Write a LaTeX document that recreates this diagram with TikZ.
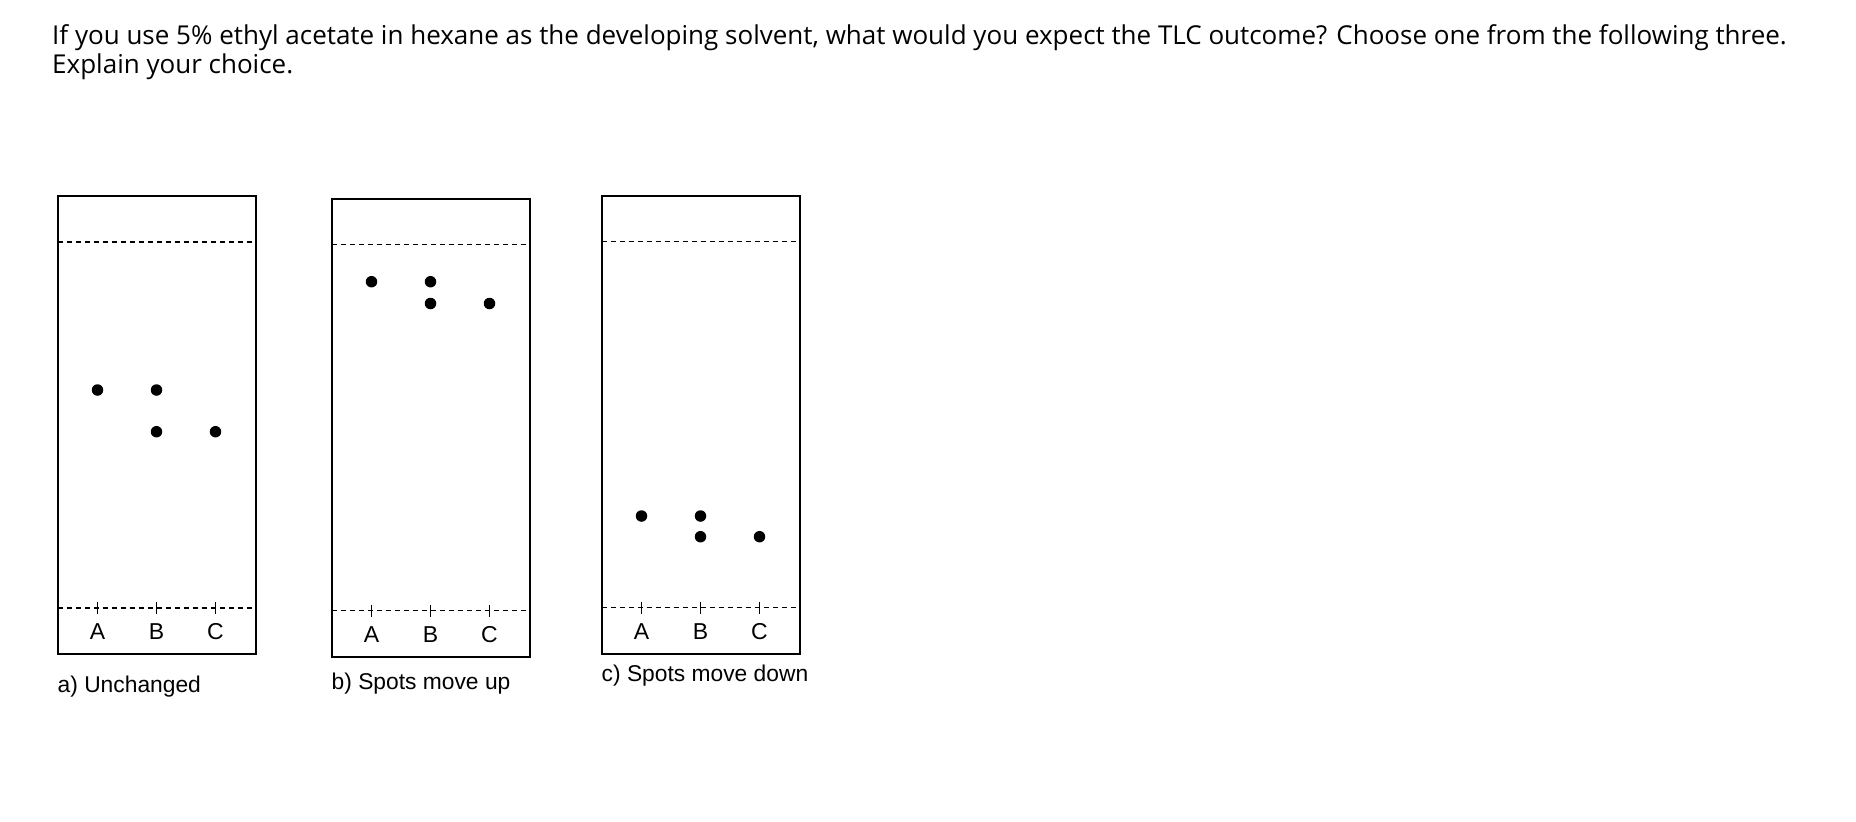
\documentclass[tikz,border=0pt]{standalone}
\usepackage{fontspec}
\setmainfont{Open Sans}
\newfontfamily\platefont{Liberation Sans}
\tikzset{
  plate/.style={draw, line width=2pt},
  front/.style={dash pattern=on 5pt off 4pt, line width=1.5pt},
  spot/.style={circle, fill=black, inner sep=0pt, minimum size=11.5pt},
  lane/.style={inner sep=0pt, font=\platefont\fontsize{23}{27}\selectfont},
  caption/.style={anchor=west, inner sep=0pt, font=\platefont\fontsize{22.8}{27}\selectfont},
  question/.style={anchor=base west, inner sep=0pt, font=\fontsize{26}{30}\selectfont},
}
\begin{document}
\begin{tikzpicture}[x=1pt, y=-1pt]
    \useasboundingbox (0,0) rectangle (1856,822);
    \node[question] (q1) at (52,44.3) {If you use 5\% ethyl acetate in hexane as the developing solvent, what would you expect the TLC outcome? Choose one from the following three.};
    \node[question] (q2) at (52,73.3) {Explain your choice.};
    % one plate per choice: name/left/top/upper spot/lower spot/caption y/caption
    \foreach \p/\x/\y/\su/\sl/\cy/\cap in {a/57.5/196/194/235.7/490.6/a) Unchanged,
                                          b/331.5/198.5/83.2/105/485.5/b) Spots move up,
                                          c/601.5/195.5/320.5/341.2/480.5/c) Spots move down}{
      \begin{scope}[shift={(\x,\y)}]
        \draw[plate] (0,0) rectangle (198,458);
        \draw[front] (0,46) -- (194,46);
        \draw[front] (0,412) -- (194,412);
        \foreach \l/\lx in {A/40,B/99,C/158}{
          \draw[line width=1.2pt] (\lx,406) -- (\lx,418);
          \node[lane] (\p\l) at (\lx,436) {\l};
        }
        \node[spot] (\p A1) at (40,\su) {};
        \node[spot] (\p B1) at (99,\su) {};
        \node[spot] (\p B2) at (99,\sl) {};
        \node[spot] (\p C1) at (158,\sl) {};
        \node[caption] (\p cap) at (0,\cy) {\cap};
      \end{scope}
    }
\end{tikzpicture}
\end{document}
